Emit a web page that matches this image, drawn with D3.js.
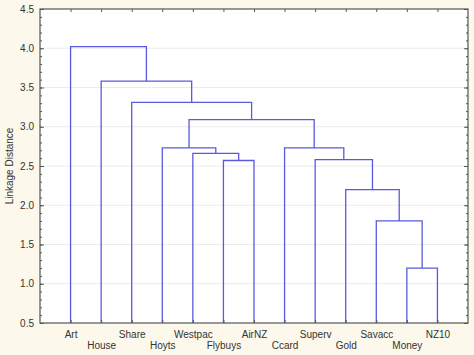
<!DOCTYPE html>
<html>
<head>
<meta charset="utf-8">
<script src="https://cdn.jsdelivr.net/npm/d3@7"></script>
<style>
  html, body { margin: 0; padding: 0; background: #fdf8ec; }
  svg { display: block; }
  text { font-family: "Liberation Sans", Arial, sans-serif; }
</style>
</head>
<body>
<script>
// ---- data ----
const leaves = ["Art","House","Share","Hoyts","Westpac","Flybuys","AirNZ","Ccard","Superv","Gold","Savacc","Money","NZ10"];
// each merge creates cluster "c<i+1>"
const mergeLeft   = ["Money","Savacc","Gold","Superv","Flybuys","Westpac","Hoyts","Ccard","c7","Share","House","Art"];
const mergeRight  = ["NZ10","c1","c2","c3","AirNZ","c5","c6","c4","c8","c9","c10","c11"];
const mergeHeight = [1.20, 1.80, 2.20, 2.58, 2.57, 2.66, 2.73, 2.73, 3.09, 3.31, 3.58, 4.02];
const yTicks = [0.5, 1.0, 1.5, 2.0, 2.5, 3.0, 3.5, 4.0, 4.5];
const yTitle = "Linkage Distance";

// ---- layout ----
const W = 474, H = 355;
const L = 40, R = 468, T = 9, B = 323;
const lineColor = "#5a5ae0";

const svg = d3.select("body").append("svg").attr("width", W).attr("height", H);

const x = d3.scalePoint().domain(leaves).range([L, R]).padding(1);
const y = d3.scaleLinear().domain([0.5, 4.5]).range([B, T]);

// plot background
svg.append("rect").attr("x", L).attr("y", T).attr("width", R - L).attr("height", B - T).attr("fill", "#ffffff");

// gridlines
svg.append("g").selectAll("line").data(yTicks.slice(1, -1)).join("line")
  .attr("x1", L).attr("x2", R)
  .attr("y1", d => y(d)).attr("y2", d => y(d))
  .attr("stroke", "#ebebeb").attr("stroke-width", 1);

// build node positions
const pos = {};
leaves.forEach(n => { pos[n] = { x: x(n), h: 0.5 }; });
const links = [];
mergeLeft.forEach((a, i) => {
  const b = mergeRight[i], h = mergeHeight[i];
  const pa = pos[a], pb = pos[b];
  links.push({ x1: pa.x, h1: pa.h, x2: pb.x, h2: pb.h, h });
  pos["c" + (i + 1)] = { x: (pa.x + pb.x) / 2, h };
});

svg.append("g").selectAll("path").data(links).join("path")
  .attr("d", d => `M${d.x1},${y(d.h1)}V${y(d.h)}H${d.x2}V${y(d.h2)}`)
  .attr("fill", "none").attr("stroke", lineColor).attr("stroke-width", 1.3);

// axes
const minor = d3.range(5, 46).map(v => v / 10);
const gL = svg.append("g").attr("transform", `translate(${L},0)`)
  .call(d3.axisLeft(y).tickValues(yTicks).tickFormat(d3.format(".1f")).tickSize(-4).tickPadding(6));
svg.append("g").attr("transform", `translate(${L},0)`)
  .call(d3.axisLeft(y).tickValues(minor).tickFormat("").tickSize(-2)).select(".domain").remove();
svg.append("g").attr("transform", `translate(${R},0)`)
  .call(d3.axisRight(y).tickValues(yTicks).tickFormat("").tickSize(-4)).select(".domain").remove();
svg.append("g").attr("transform", `translate(${R},0)`)
  .call(d3.axisRight(y).tickValues(minor).tickFormat("").tickSize(-2)).select(".domain").remove();
svg.append("g").attr("transform", `translate(0,${T})`)
  .call(d3.axisTop(x).tickFormat("").tickSize(-3)).select(".domain").remove();
const gB = svg.append("g").attr("transform", `translate(0,${B})`)
  .call(d3.axisBottom(x).tickSize(-3).tickPadding(0));
gB.select(".domain").remove();
gB.selectAll("text")
  .attr("dy", null)
  .attr("y", (d, i) => i % 2 === 0 ? 14.5 : 25.5);

svg.selectAll(".tick line").attr("stroke", "#555");
svg.selectAll(".tick text").attr("fill", "#333").style("font-size", "10px")
  .style("font-family", '"Liberation Sans", Arial, sans-serif');
gL.select(".domain").remove();

// frame
svg.append("rect").attr("x", L).attr("y", T).attr("width", R - L).attr("height", B - T)
  .attr("fill", "none").attr("stroke", "#555").attr("stroke-width", 1.2);

// y title
svg.append("text").attr("transform", `translate(13,${(T + B) / 2}) rotate(-90)`)
  .attr("text-anchor", "middle").attr("fill", "#333").style("font-size", "10px")
  .text(yTitle);
</script>
</body>
</html>
